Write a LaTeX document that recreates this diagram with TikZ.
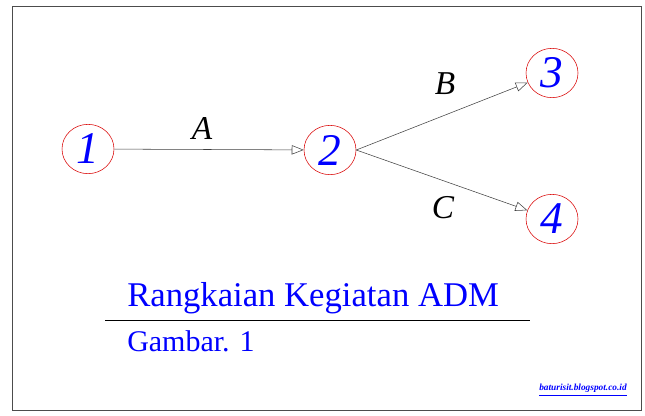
\documentclass[tikz,border=0pt]{standalone}
\usepackage{fontspec}
\setmainfont{Liberation Serif}
\usetikzlibrary{arrows.meta,shapes.geometric}
\begin{document}
\begin{tikzpicture}[x=0.75pt,y=-0.75pt,
  ev/.style={draw=red!85!black,ellipse,minimum width=39pt,minimum height=37pt,inner sep=0pt,font=\fontsize{34}{34}\selectfont\itshape,text=blue},
  act/.style={draw=black!75,-{Triangle[open,length=9pt,width=7pt]}},
  lab/.style={font=\fontsize{25}{25}\selectfont\itshape}]
\useasboundingbox (0,0) rectangle (645,415);
\fill[white] (0,0) rectangle (645,415);
\draw[black!70] (12,6) rectangle (641,410);
\node[ev] (n1) at (88,149) {1};
\node[ev] (n2) at (330,150) {2};
\node[ev] (n3) at (552,73) {3};
\node[ev] (n4) at (552,219) {4};
\draw[act] (n1) -- (n2);
\draw[act] (n2.east) -- (n3);
\draw[act] (n2.east) -- (n4);
\node[lab] (la) at (202,128) {A};
\node[lab] (lb) at (445,84) {B};
\node[lab] (lc) at (443,208) {C};
\node[font=\fontsize{26}{26}\selectfont,text=blue,anchor=west,inner sep=0pt] (t) at (127,298) {Rangkaian Kegiatan ADM};
\coordinate (l1) at (105,320); \coordinate (l2) at (530,320);
\draw[black] (l1) -- (l2);
\node[font=\fontsize{22.5}{22.5}\selectfont,text=blue,anchor=west,inner sep=0pt] (g) at (127,341) {Gambar. 1};
\node[font=\fontsize{7}{7}\selectfont\bfseries\itshape,text=blue] (w) at (583,390) {\underline{baturisit.blogspot.co.id}};
\end{tikzpicture}
\end{document}
